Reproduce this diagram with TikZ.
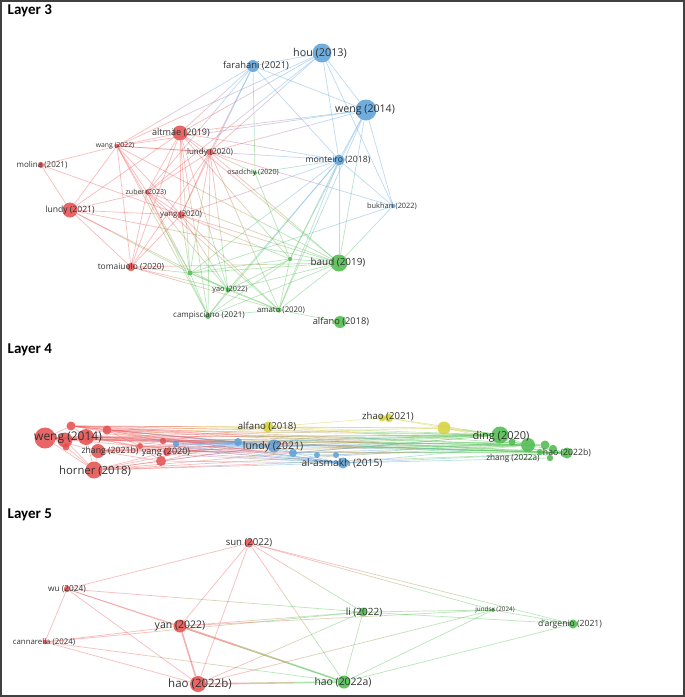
\documentclass[tikz,border=0pt]{standalone}
\usepackage{fontspec}
\setmainfont{Open Sans}
\newfontfamily\titlefont{Carlito}
\usetikzlibrary{calc}
\pgfdeclarelayer{paper}
\pgfdeclarelayer{edges}
\pgfsetlayers{paper,edges,main}
\definecolor{nr}{RGB}{228,76,76}
\definecolor{nb}{RGB}{88,158,214}
\definecolor{ng}{RGB}{74,186,74}
\definecolor{ny}{RGB}{212,208,52}
\definecolor{er}{RGB}{238,96,96}
\definecolor{eb}{RGB}{100,168,226}
\definecolor{eg}{RGB}{92,196,92}
\definecolor{ey}{RGB}{214,204,52}
\definecolor{erb}{RGB}{170,130,170}
\definecolor{erg}{RGB}{170,150,80}
\definecolor{ebg}{RGB}{90,186,160}
\definecolor{ery}{RGB}{230,160,80}
\definecolor{egy}{RGB}{160,200,70}
\definecolor{txt}{RGB}{50,50,50}
\definecolor{frame}{RGB}{64,64,64}
\tikzset{
  dot/.style={circle,inner sep=0pt,draw=none,fill opacity=0.85},
  lab/.style={inner sep=0pt,text=txt},
  lk/.style={line width=0.7pt,draw opacity=0.42},
  lkt/.style={line width=1.6pt,draw opacity=0.5},
  ttl/.style={inner sep=0pt,anchor=west,font=\titlefont\bfseries\fontsize{15}{15}\selectfont}
}
\newcommand\mk[5]{\node[dot,minimum size=#4*2pt,fill=#5] (#1) at (#2,#3) {};}
\newcommand\lb[5]{\node[lab,font=\fontsize{#4}{#4}\selectfont] (#1) at (#2,#3) {#5};}
% gradient-like connector in three parts
\newcommand\gl[6][lk]{%
  \draw[#1,#4] (#2) -- ($(#2)!0.34!(#3)$);
  \draw[#1,#5] ($(#2)!0.34!(#3)$) -- ($(#2)!0.66!(#3)$);
  \draw[#1,#6] ($(#2)!0.66!(#3)$) -- (#3);}
\begin{document}
\begin{tikzpicture}[x=1pt,y=-1pt]
\useasboundingbox (0,0) rectangle (685,697);
\begin{pgfonlayer}{paper}
\fill[white] (0,0) rectangle (685,697);
\draw[line width=1.6pt,frame] (0.8,0.8) rectangle (684.2,696.2);
\end{pgfonlayer}
% titles
\node[ttl] (t3) at (7.5,10.5) {Layer 3};
\node[ttl] (t4) at (7.5,349.5) {Layer 4};
\node[ttl] (t5) at (7.5,514.5) {Layer 5};
% ---------------- Layer 3 nodes
\mk{ahou}{322}{53}{9.5}{nb}
\mk{aweng}{366}{110}{10.5}{nb}
\mk{afar}{253}{66}{6}{nb}
\mk{amon}{339}{160}{5.5}{nb}
\mk{abuk}{393}{206}{2.3}{nb}
\mk{aosa}{255}{173}{2}{ng}
\mk{aalt}{180}{133}{7.5}{nr}
\mk{awang}{117}{146}{2.3}{nr}
\mk{alunb}{210}{152}{3.5}{nr}
\mk{amol}{41}{165}{3}{nr}
\mk{azub}{147}{192}{2.3}{nr}
\mk{aluna}{70}{210}{7.5}{nr}
\mk{ayang}{181}{215}{3.8}{nr}
\mk{atom}{131}{267}{4.2}{nr}
\mk{aga}{190}{273}{2.6}{ng}
\mk{agb}{290}{259}{2.2}{ng}
\mk{abaud}{339}{263}{8.5}{ng}
\mk{ayao}{228}{290}{2.6}{ng}
\mk{aamato}{279}{310}{2.6}{ng}
\mk{acamp}{208}{316}{3}{ng}
\mk{aalf}{340}{322}{6}{ng}
% ---------------- Layer 4 nodes
\mk{bweng}{45}{438}{10.5}{nr}
\mk{br1}{71}{426}{4.5}{nr}
\mk{br2}{65}{440}{7.5}{nr}
\mk{br3}{86}{437}{8}{nr}
\mk{br4}{107}{430}{4.5}{nr}
\mk{br5}{66}{447}{3.5}{nr}
\mk{bzh}{98}{451}{7}{nr}
\mk{br6}{140}{446}{3}{nr}
\mk{br7}{163}{441}{3.2}{nr}
\mk{br8}{161}{461}{5}{nr}
\mk{bhorn}{94}{470}{8.5}{nr}
\mk{byang}{167}{452}{4}{nr}
\mk{bb1}{176}{444}{3.2}{nb}
\mk{bb2}{238}{442}{4}{nb}
\mk{blun}{274}{446}{6.5}{nb}
\mk{bb3}{293}{453}{4}{nb}
\mk{bb4}{317}{455}{3}{nb}
\mk{bb5}{336}{455}{3}{nb}
\mk{basm}{343}{463}{5.5}{nb}
\mk{balf}{268}{427}{5.5}{ny}
\mk{bz1}{382}{418}{3.5}{ny}
\mk{bz2}{389}{418}{4.2}{ny}
\mk{by3}{444}{428}{6.5}{ny}
\mk{bding}{500}{435}{8.5}{ng}
\mk{bg1}{512}{442}{3.5}{ng}
\mk{bg2}{528}{445}{7}{ng}
\mk{bg3}{545}{445}{4.5}{ng}
\mk{bg4}{553}{449}{4.2}{ng}
\mk{bhao}{567}{453}{5.5}{ng}
\mk{bg5}{550}{458}{3.2}{ng}
\mk{bg6}{540}{452}{3}{ng}
% ---------------- Layer 5 nodes
\mk{csun}{249}{543}{4.5}{nr}
\mk{cwu}{67}{589}{3.2}{nr}
\mk{cyan}{180}{626}{6.5}{nr}
\mk{ccan}{45}{642}{2.2}{nr}
\mk{chaob}{198}{684}{8}{nr}
\mk{cli}{363}{612}{4.5}{ng}
\mk{cjun}{493}{610}{2}{ng}
\mk{cdar}{573}{624}{4.5}{ng}
\mk{chaoa}{344}{682}{6.5}{ng}
% ---------------- edges (behind)
\begin{pgfonlayer}{edges}
% Layer 3
\foreach \a/\b in {hou/far,hou/weng,hou/mon,far/weng,far/mon,weng/mon,weng/buk,mon/buk,hou/buk}
  \draw[lk,eb] (a\a) -- (a\b);
\foreach \a/\b in {hou/alt,hou/lunb,hou/wang,hou/zub,far/alt,far/wang,far/lunb,far/zub,far/yang,weng/alt,weng/lunb,weng/wang,mon/wang,mon/yang,buk/lunb,mon/alt}
  {\gl{a\a}{a\b}{eb}{erb}{er}}
\foreach \a/\b in {far/osa,mon/osa,mon/baud,mon/yao,mon/camp,mon/amato,mon/gb,mon/ga,weng/baud,weng/gb,buk/baud,weng/amato,buk/ga}
  {\gl{a\a}{a\b}{eb}{ebg}{eg}}
\foreach \a/\b in {alt/wang,alt/lunb,alt/zub,alt/yang,alt/tom,alt/luna,wang/mol,wang/zub,wang/lunb,wang/yang,wang/tom,wang/luna,mol/luna,mol/yang,luna/zub,luna/tom,luna/yang,tom/zub,tom/lunb,tom/yang,zub/lunb,zub/yang,lunb/yang}
  \draw[lk,er] (a\a) -- (a\b);
\foreach \a/\b in {luna/ga,luna/baud,luna/yao,tom/ga,tom/baud,tom/yao,tom/amato,alt/ga,alt/yao,alt/camp,alt/baud,lunb/yao,lunb/camp,lunb/amato,lunb/baud,lunb/ga,zub/ga,zub/yao,zub/camp,zub/amato,zub/baud,yang/ga,yang/baud,yang/amato,yang/yao,wang/ga,wang/camp,wang/baud,lunb/osa,alt/gb,yang/gb}
  {\gl{a\a}{a\b}{er}{erg}{eg}}
\foreach \a/\b in {ga/camp,ga/yao,ga/amato,ga/baud,ga/gb,yao/camp,yao/amato,yao/baud,yao/gb,camp/amato,camp/baud,camp/gb,amato/baud,amato/alf,amato/gb,baud/gb,osa/gb}
  \draw[lk,eg] (a\a) -- (a\b);
% Layer 4
\foreach \a/\b in {weng/r1,weng/r3,r1/r4,r3/horn,zh/horn,r2/horn,weng/horn,r4/r7,r6/r8,horn/r8,zh/r8,r3/r6,r1/r7,r2/r4,r5/horn,zh/r6,weng/zh,r3/yang,horn/yang,r4/r6,zh/r7,r2/r7,weng/r7,r1/r3}
  \draw[lk,er] (b\a) -- (b\b);
\foreach \a in {weng,r1,r3,r4,zh,r6,r7,horn,yang,r8}
  {\gl{b\a}{blun}{er}{erb}{eb}\gl{b\a}{bb2}{er}{erb}{eb}\gl{b\a}{basm}{er}{erb}{eb}}
\foreach \a in {weng,r1,r3,r4,zh,r7,horn,yang}
  {\gl{b\a}{bding}{er}{erg}{eg}\gl{b\a}{bg2}{er}{erg}{eg}\gl{b\a}{bhao}{er}{erg}{eg}}
\foreach \a/\b in {weng/alf,r1/alf,r4/alf,r3/y3,r7/alf,r1/y3}
  {\gl{b\a}{b\b}{er}{ery}{ey}}
\foreach \a/\b in {b2/ding,lun/g1,lun/hao,b3/g3,b4/g4,b5/g1,asm/hao,asm/g5,b1/ding,lun/g2,b2/g6,b3/ding,asm/g2}
  {\gl{b\a}{b\b}{eb}{ebg}{eg}}
\foreach \a/\b in {b1/lun,b2/lun,lun/b3,b3/b4,b4/b5,b5/asm,b2/asm}
  \draw[lk,eb] (b\a) -- (b\b);
\foreach \a/\b in {alf/z1,alf/y3,z2/y3}
  \draw[lk,ey] (b\a) -- (b\b);
\foreach \a/\b in {alf/g3,alf/ding,y3/g2,z2/ding}
  {\gl{b\a}{b\b}{ey}{egy}{eg}}
\gl[lkt]{by3}{bding}{ey}{egy}{eg}
\foreach \a/\b in {ding/g1,g1/g2,g2/g3,g3/g4,g4/hao,g2/g5,g6/hao,ding/g2,g2/hao}
  \draw[lk,eg] (b\a) -- (b\b);
% Layer 5
\foreach \a/\b in {sun/wu,sun/yan,sun/haob,wu/yan,wu/haob,wu/can,yan/can,can/haob}
  \draw[lk,er] (c\a) -- (c\b);
\draw[lkt,er] (cyan) -- (chaob);
\foreach \a/\b in {sun/li,sun/haoa,sun/jun,sun/dar,wu/li,wu/haoa,yan/li,yan/jun,can/li,can/haoa,haob/li,haob/jun}
  {\gl{c\a}{c\b}{er}{erg}{eg}}
\gl[lkt]{cyan}{chaoa}{er}{erg}{eg}
\gl[lkt]{chaob}{chaoa}{er}{erg}{eg}
\foreach \a/\b in {li/haoa,li/jun,li/dar,haoa/jun,haoa/dar,jun/dar}
  \draw[lk,eg] (c\a) -- (c\b);
\end{pgfonlayer}
% ---------------- labels Layer 3
\lb{lhou}{320}{53}{10.8}{hou (2013)}
\lb{lweng}{365}{110}{10.6}{weng (2014)}
\lb{lfar}{256}{66}{9.4}{farahani (2021)}
\lb{lmon}{338}{160}{8.7}{monteiro (2018)}
\lb{lbuk}{392}{206}{7.4}{bukhari (2022)}
\lb{losa}{253}{173}{7.1}{osadchiy (2020)}
\lb{lalt}{181}{133}{9.1}{altmäe (2019)}
\lb{lwang}{115}{146}{6.8}{wang (2022)}
\lb{llunb}{210}{152}{8}{lundy (2020)}
\lb{lmol}{42}{165}{8}{molina (2021)}
\lb{lzub}{146}{192}{7}{zuber (2023)}
\lb{lluna}{70}{210}{8.6}{lundy (2021)}
\lb{lyang}{181}{215}{7.8}{yang (2020)}
\lb{ltom}{131}{267}{8.4}{tomaiuolo (2020)}
\lb{lbaud}{338}{263}{9.9}{baud (2019)}
\lb{lyao}{230}{290}{7.3}{yao (2022)}
\lb{lamato}{281}{310}{7.8}{amato (2020)}
\lb{lcamp}{209}{316}{8}{campisciano (2021)}
\lb{lalf}{341}{322}{9.3}{alfano (2018)}
% labels Layer 4
\lb{mweng}{68}{438}{12}{weng (2014)}
\lb{mzh}{110}{451}{8.7}{zhang (2021b)}
\lb{myang}{166}{452}{9}{yang (2020)}
\lb{mhorn}{95}{471}{11.3}{horner (2018)}
\lb{malf}{267}{427}{9.6}{alfano (2018)}
\lb{mzhao}{388}{417}{9.6}{zhao (2021)}
\lb{mlun}{273}{447}{10.5}{lundy (2021)}
\lb{masm}{342}{463}{10.2}{al-asmakh (2015)}
\lb{mding}{501}{437}{11}{ding (2020)}
\lb{mzha}{513}{458}{8.2}{zhang (2022a)}
\lb{mhao}{567}{453}{8.7}{hao (2022b)}
% labels Layer 5
\lb{nsun}{249}{543}{9.6}{sun (2022)}
\lb{nwu}{67}{589}{8.3}{wu (2024)}
\lb{nyan}{180}{626}{10.5}{yan (2022)}
\lb{ncan}{44}{642}{7.8}{cannarella (2024)}
\lb{nhaob}{200}{684}{11.5}{hao (2022b)}
\lb{nli}{364}{612}{10}{li (2022)}
\lb{njun}{495}{610}{6.3}{jundsx (2024)}
\lb{ndar}{570}{624}{8.6}{d'argenio (2021)}
\lb{nhaoa}{343}{682}{10.4}{hao (2022a)}
\end{tikzpicture}
\end{document}
